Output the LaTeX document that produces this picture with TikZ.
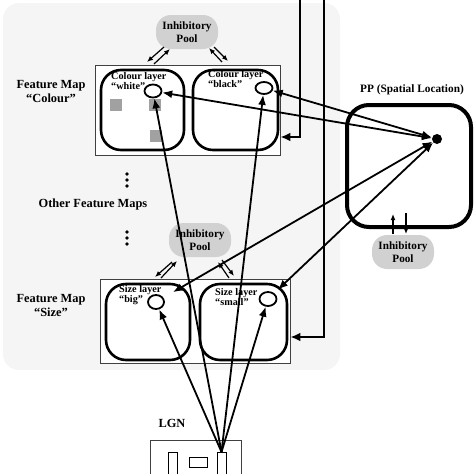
\documentclass[tikz,border=0pt]{standalone}
\usepackage{fontspec}
\setmainfont{Liberation Serif}
\usetikzlibrary{arrows.meta,shapes.geometric}

\begin{document}
\begin{tikzpicture}[x=1pt,y=-1pt,
    pool/.style={fill=black!18,rounded corners=15pt,minimum width=62pt,minimum height=34pt,align=center,inner sep=1pt,font=\fontsize{11.2}{12.5}\selectfont\bfseries},
    layer/.style={draw,fill=white,line width=2.6pt,rounded corners=20pt},
    mapbox/.style={draw=black!75,fill=white,line width=0.9pt},
    cell/.style={draw,fill=white,ellipse,line width=1.8pt,inner sep=0pt},
    lbl/.style={font=\fontsize{12.4}{14}\selectfont\bfseries,align=center},
    layertext/.style={font=\fontsize{10.2}{10}\selectfont\bfseries,align=left,anchor=west,inner sep=0pt},
    link/.style={line width=1.8pt,-{Latex[length=10pt,width=8pt]}},
    both/.style={line width=1.8pt,{Latex[length=10pt,width=8pt]}-{Latex[length=10pt,width=8pt]}},
    inh/.style={line width=1.2pt,-{Latex[length=6pt,width=5pt]}},
    feed/.style={line width=2.4pt,-{Latex[length=10pt,width=9pt]}}]
    \useasboundingbox (0,0) rectangle (474,474);
    %background
    \fill[black!4,rounded corners=16pt] (3,3) rectangle (340,370);

    %colour map
    \node[mapbox,minimum width=185pt,minimum height=90pt] (colmap) at (187.5,110) {};
    \node[layer,minimum width=83pt,minimum height=80pt] (lwhite) at (142.5,110) {};
    \node[layer,minimum width=85pt,minimum height=80pt] (lblack) at (235.5,110) {};
    \fill[black!37] (109.5,99) rectangle +(12,12);
    \fill[black!37] (149,99) rectangle +(12,12);
    \fill[black!37] (150,130) rectangle +(12,12);
    \node[cell,minimum width=17pt,minimum height=13pt] (cwhite) at (153,91) {};
    \node[cell,minimum width=17pt,minimum height=12pt] (cblack) at (264,88) {};
    \node[layertext] at (111,81) {Colour layer\\“white”};
    \node[layertext] at (208,79) {Colour layer\\“black”};
    \node[lbl] (colname) at (51,92) {Feature Map\\“Colour”};

    %size map
    \node[mapbox,minimum width=190pt,minimum height=84pt] (sizemap) at (195,321) {};
    \node[layer,minimum width=84pt,minimum height=76pt] (lbig) at (148,322) {};
    \node[layer,minimum width=87pt,minimum height=76pt] (lsmall) at (243.5,322) {};
    \node[cell,minimum width=16pt,minimum height=14pt] (cbig) at (156,302) {};
    \node[cell,minimum width=17pt,minimum height=14pt] (csmall) at (268,299) {};
    \node[layertext] at (119,295) {Size layer\\“big”};
    \node[layertext] at (215,297) {Size layer\\“small”};
    \node[lbl] (sizename) at (51,305) {Feature Map\\“Size”};

    %other maps
    \node[lbl] (other) at (93,205) {Other Feature Maps};
    \foreach \y in {174,180,186,232,238,244}
        \fill (127,\y) circle (1.8);

    %pools
    \node[pool] (pooltop) at (187,32) {Inhibitory\\Pool};
    \node[pool] (poolmid) at (200,240) {Inhibitory\\Pool};
    \node[pool] (poolpp) at (403,252) {Inhibitory\\Pool};
    \draw[inh] (164,47) -- (147,62);
    \draw[inh] (154,64) -- (170,49);
    \draw[inh] (222,62) -- (209,48);
    \draw[inh] (214,47) -- (228,61);
    \draw[inh] (172,262) -- (155,277);
    \draw[inh] (161,278) -- (177,261);
    \draw[inh] (229,278) -- (218,262);
    \draw[inh] (222,260) -- (234,276);

    %spatial location
    \node[draw,fill=white,line width=4pt,rounded corners=22pt,minimum width=124pt,minimum height=122pt] (pp) at (409,166) {};
    \node[font=\fontsize{11.3}{12}\selectfont\bfseries] (ppname) at (412,90) {PP (Spatial Location)};
    \node[circle,fill,inner sep=0pt,minimum size=10pt] (ppdot) at (437,139) {};
    \draw[inh] (393,234) -- (393,214);
    \draw[inh] (406,213) -- (406,234);

    %lgn
    \node[mapbox,minimum width=91pt,minimum height=60pt,anchor=north west] (lgn) at (150,440) {};
    \node[lbl] (lgnname) at (172,423) {LGN};
    \node[draw,line width=0.9pt,minimum width=9pt,minimum height=40pt,inner sep=0pt,anchor=north] (lgnl) at (172.5,452) {};
    \node[draw,line width=0.9pt,minimum width=18pt,minimum height=10pt,inner sep=0pt] (lgnm) at (198,462) {};
    \node[draw,line width=0.9pt,minimum width=9pt,minimum height=40pt,inner sep=0pt,anchor=north] (lgnr) at (221.5,452) {};

    %draw lines
    \draw[link] (lgnr.north) -- (cwhite);
    \draw[link] (lgnr.north) -- (cblack);
    \draw[link] (lgnr.north) -- (cbig);
    \draw[link] (lgnr.north) -- (csmall);
    \draw[both] (ppdot) -- (cwhite);
    \draw[both] (ppdot) -- (cblack);
    \draw[both,shorten >=11pt] (ppdot) -- (cbig);
    \draw[both,shorten >=5pt] (ppdot) -- (csmall);

    %feedback from above
    \coordinate (fbcol) at (300,-2);
    \coordinate (fbsize) at (324,-2);
    \draw[feed] (fbcol) |- (colmap.east |- 0,137);
    \draw[feed] (fbsize) |- (sizemap.east |- 0,337);
\end{tikzpicture}
\end{document}
